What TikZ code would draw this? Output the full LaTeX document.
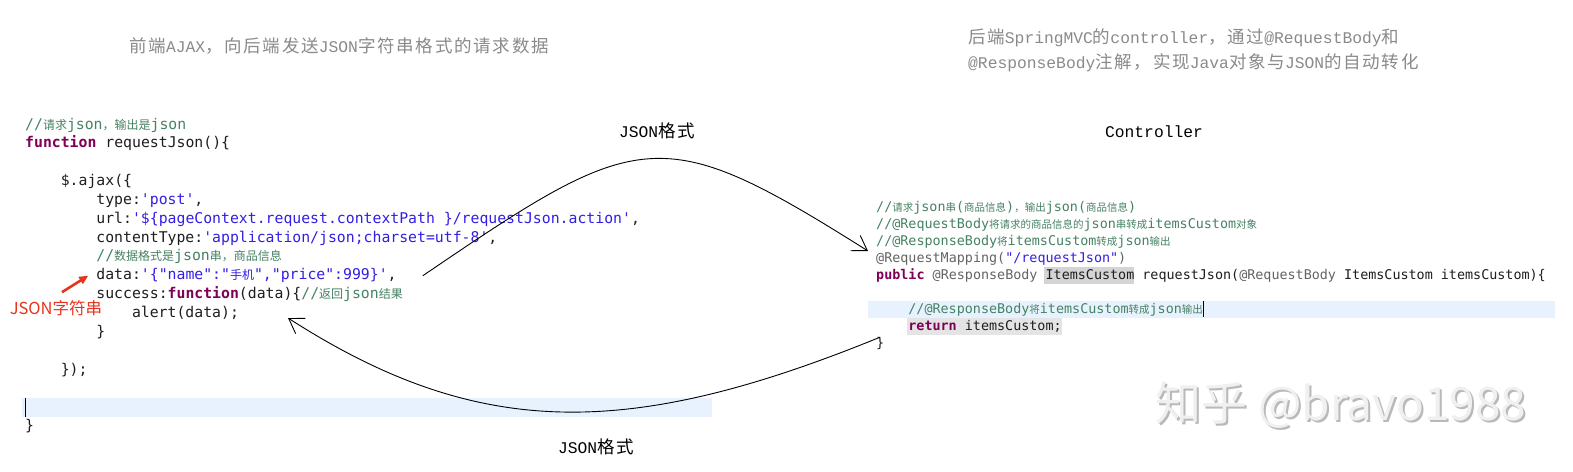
\documentclass[tikz,border=0pt]{standalone}
\usepackage{fontspec}
\usetikzlibrary{arrows.meta}
\setmonofont{DejaVu Sans Mono}
\newfontfamily\cjk{Noto Sans CJK SC}
\newfontfamily\cjkt{Noto Sans CJK SC}[LetterSpace=10]
\newfontfamily\halfw{Liberation Mono}
\definecolor{kwcol}{RGB}{127,0,85}
\definecolor{strcol}{RGB}{52,30,230}
\definecolor{cmtcol}{RGB}{70,130,100}
\definecolor{annocol}{RGB}{100,100,100}
\definecolor{txtcol}{RGB}{30,30,30}
\definecolor{bandcol}{RGB}{232,242,254}
\definecolor{occcol}{RGB}{212,212,212}
\definecolor{retcol}{RGB}{228,228,228}
\definecolor{notecol}{RGB}{138,138,138}
\definecolor{redcol}{RGB}{232,52,28}
\newcommand\kw[1]{{\color{kwcol}\bfseries #1}}
\newcommand\jstr[1]{{\color{strcol}#1}}
\newcommand\cmt[1]{{\color{cmtcol}#1}}
\newcommand\anno[1]{{\color{annocol}#1}}
\def\zhsz{12}
\newcommand\zh[1]{{\cjk\fontsize{\zhsz}{\zhsz}\selectfont #1}}
\newcommand\zt[1]{{\cjkt\fontsize{17.5}{25}\selectfont #1}}
\begin{document}
\begin{tikzpicture}[x=1pt,y=-1pt]
	\tikzset{
		code/.style={anchor=base west, inner sep=0pt, text=txtcol, font=\ttfamily\fontsize{14.8}{19}\selectfont},
		rcode/.style={anchor=base west, inner sep=0pt, text=txtcol, font=\ttfamily\fontsize{13.4}{17}\selectfont\def\zhsz{10.5}},
		note/.style={inner sep=0pt, text=notecol, font=\halfw\fontsize{16.3}{25}\selectfont},
		lbl/.style={inner sep=0pt, text=black, font=\halfw\fontsize{16.3}{25}\selectfont},
		flow/.style={line width=0.9pt, -{Straight Barb[length=14pt,width=18pt]}},
		band/.style={fill=bandcol},
		cursor/.style={line width=1.6pt}
	}
	\fill[white] (0,0) rectangle (1573,471);
	\useasboundingbox (0,0) rectangle (1573,471);

	% highlighted lines
	\fill[band] (22,397.5) rectangle (712,416.5);
	\fill[band] (868,300.5) rectangle (1555,317.5);
	\fill[occcol] (1044,266.5) rectangle (1134,283.5);
	\fill[retcol] (907,317.5) rectangle (1062,334.5);

	% notes on top
	\node[note] (t1) at (339,46) {\zt{前端}AJAX\zt{，向后端发送}JSON\zt{字符串格式的请求数据}};
	\node[note, anchor=west, align=left] (t2) at (968,50.5) {\zt{后端}SpringMVC\zt{的}controller\zt{，通过}@RequestBody\zt{和}\\@ResponseBody\zt{注解，实现}Java\zt{对象与}JSON\zt{的自动转化}};
	\node[lbl] (j1) at (657,131) {JSON\zt{格式}};
	\node[lbl] (j2) at (596,447) {JSON\zt{格式}};
	\node[lbl] (ctrl) at (1154,132) {Controller};

	% front end code
	\node[code] (lc1) at (25,129) {\cmt{//\zh{请求}json\zh{，输出是}json}};
	\node[code] (lc2) at (25,147.85) {\kw{function} requestJson()\{};
	\node[code] (lc4) at (60.6,185.55) {\$.ajax(\{};
	\node[code] (lc5) at (96.2,204.4) {type:\jstr{'post'},};
	\node[code] (lc6) at (96.2,223.25) {url:\jstr{'\$\{pageContext.request.contextPath \}/requestJson.action'},};
	\node[code] (lc7) at (96.2,242.1) {contentType:\jstr{'application/json;charset=utf-8'},};
	\node[code] (lc8) at (96.2,260.95) {\cmt{//\zh{数据格式是}json\zh{串，商品信息}}};
	\node[code] (lc9) at (96.2,279.8) {data:\jstr{'\{"name":"\zh{手机}","price":999\}'},};
	\node[code] (lc10) at (96.2,298.65) {success:\kw{function}(data)\{\cmt{//\zh{返回}json\zh{结果}}};
	\node[code] (lc11) at (131.8,317.5) {alert(data);};
	\node[code] (lc12) at (96.2,336.35) {\}};
	\node[code] (lc14) at (60.6,374.05) {\});};
	\node[code] (lc17) at (25,430.6) {\}};
	\draw[cursor] (25.5,397.5) -- (25.5,416.5);

	% controller code
	\node[rcode] (rc1) at (876,211.5) {\cmt{//\zh{请求}json\zh{串}(\zh{商品信息})\zh{，输出}json(\zh{商品信息})}};
	\node[rcode] (rc2) at (876,228.5) {\cmt{//@RequestBody\zh{将请求的商品信息的}json\zh{串转成}itemsCustom\zh{对象}}};
	\node[rcode] (rc3) at (876,245.5) {\cmt{//@ResponseBody\zh{将}itemsCustom\zh{转成}json\zh{输出}}};
	\node[rcode] (rc4) at (876,262.5) {\anno{@RequestMapping(}\jstr{"/requestJson"}\anno{)}};
	\node[rcode] (rc5) at (876,279.5) {\kw{public} \anno{@ResponseBody} ItemsCustom requestJson(\anno{@RequestBody} ItemsCustom itemsCustom)\{};
	\node[rcode] (rc6) at (908.2,313.5) {\cmt{//@ResponseBody\zh{将}itemsCustom\zh{转成}json\zh{输出}}};
	\node[rcode] (rc7) at (908.2,330.5) {\kw{return} itemsCustom;};
	\node[rcode] (rc8) at (876,347.5) {\}};
	\draw[line width=1.2pt] (rc6.east |- 0,301) -- (rc6.east |- 0,317);

	% JSON string label
	\node[inner sep=0pt, text=redcol, font=\cjk\fontsize{16.5}{18}\selectfont] (jsl) at (56,308) {JSON字符串};
	\draw[redcol, line width=2.6pt, -{Triangle[length=9pt,width=8pt]}] ([xshift=6pt,yshift=8pt]jsl.north) -- ([xshift=-8pt]lc9.west);

	% request and response
	\coordinate (reqin) at (868,251);
	\coordinate (respin) at (288,318);
	\draw[flow] ([xshift=26pt]lc9.east) .. controls (640,128) and (660,120) .. (reqin);
	\draw[flow] (rc8.north) .. controls (628,440) and (478,440) .. (respin);

	% watermark
	\node[text=gray!55, font=\cjk\fontsize{46}{46}\selectfont] (wms) at (1343,407) {知乎 @bravo1988};
	\node[text=gray!12, font=\cjk\fontsize{46}{46}\selectfont] (wm) at (1341,405) {知乎 @bravo1988};
\end{tikzpicture}
\end{document}
